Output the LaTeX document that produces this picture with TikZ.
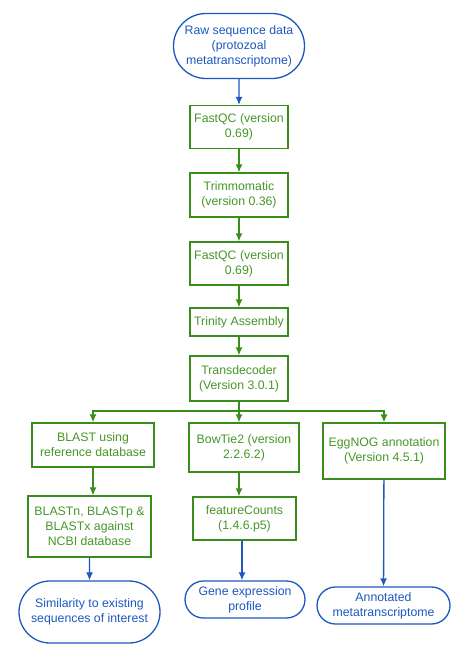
\documentclass[tikz,border=0pt]{standalone}
\usepackage{fontspec}
\setmainfont{Liberation Sans}
\usetikzlibrary{shapes.misc,arrows.meta}
\definecolor{boxgreen}{RGB}{58,140,28}
\definecolor{textgreen}{RGB}{70,150,40}
\definecolor{termblue}{RGB}{28,88,190}
\tikzset{
  stepbox/.style={draw=boxgreen, line width=1.3pt, text=textgreen, align=center,
    inner sep=1pt, font=\fontsize{12.3}{15}\selectfont},
  termbox/.style={draw=termblue, line width=1.3pt, rounded rectangle, text=termblue,
    align=center, inner sep=1pt, font=\fontsize{12.3}{15}\selectfont},
  gline/.style={draw=boxgreen, line width=1.3pt},
  bline/.style={draw=termblue, line width=1.3pt},
}
\begin{document}
\begin{tikzpicture}[x=1pt, y=-1pt, >={Latex[length=8pt,width=7pt]}]
  \useasboundingbox (0,0) rectangle (474,663);
  % main column
  \node[termbox, minimum width=133pt, minimum height=65pt] (raw) at (239,46) {Raw sequence data\\(protozoal\\metatranscriptome)};
  \node[stepbox, minimum width=98pt, minimum height=43pt] (fqc1) at (239,127) {FastQC (version\\0.69)};
  \node[stepbox, minimum width=98pt, minimum height=44pt] (trim) at (239,195) {Trimmomatic\\(version 0.36)};
  \node[stepbox, minimum width=98pt, minimum height=43pt] (fqc2) at (239,263.5) {FastQC (version\\0.69)};
  \node[stepbox, minimum width=98pt, minimum height=28pt] (trinity) at (239,322) {Trinity Assembly};
  \node[stepbox, minimum width=98pt, minimum height=45pt] (trans) at (239,378.5) {Transdecoder\\(Version 3.0.1)};
  % three branches
  \node[stepbox, minimum width=122pt, minimum height=44pt] (blast) at (93,445) {BLAST using\\reference database};
  \node[stepbox, minimum width=110pt, minimum height=49pt] (bowtie) at (244,447.5) {BowTie2 (version\\2.2.6.2)};
  \node[stepbox, minimum width=122pt, minimum height=56pt] (egg) at (384,451) {EggNOG annotation\\(Version 4.5.1)};
  \node[stepbox, minimum width=123pt, minimum height=61pt] (blastn) at (89.5,526.5) {BLASTn, BLASTp \&\\BLASTx against\\NCBI database};
  \node[stepbox, minimum width=103pt, minimum height=43pt] (fcount) at (244.5,518.5) {featureCounts\\(1.4.6.p5)};
  % results
  \node[termbox, minimum width=143pt, minimum height=62pt] (simil) at (89.5,612) {Similarity to existing\\sequences of interest};
  \node[termbox, minimum width=122pt, minimum height=37pt] (gene) at (245,599.5) {Gene expression\\profile};
  \node[termbox, minimum width=135pt, minimum height=37pt] (annot) at (383.5,605.5) {Annotated\\metatranscriptome};
  % arrows
  \draw[bline, ->] (raw) -- (fqc1);
  \draw[gline, ->] (fqc1) -- (trim);
  \draw[gline, ->] (trim) -- (fqc2);
  \draw[gline, ->] (fqc2) -- (trinity);
  \draw[gline, ->] (trinity) -- (trans);
  \coordinate (split) at (239,411);
  \draw[gline, ->] (trans) -- (trans |- bowtie.north);
  \draw[gline, ->] (split) -| (blast);
  \draw[gline, ->] (split) -| (egg);
  \draw[gline, ->] (blast) -- (blast |- blastn.north);
  \draw[gline, ->] (bowtie.south -| trans) -- (fcount.north -| trans);
  \draw[bline, ->] (blastn) -- (simil);
  \draw[bline, ->] (fcount.south -| 242,0) -- (gene.north -| 242,0);
  \draw[bline, ->] (egg) -- (annot);
\end{tikzpicture}
\end{document}
